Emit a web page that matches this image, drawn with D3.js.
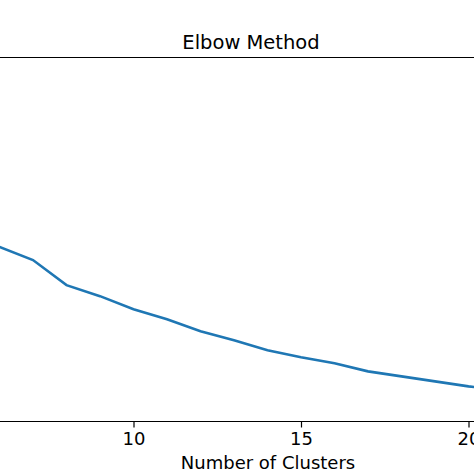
<!DOCTYPE html>
<html><head><meta charset="utf-8">
<script src="https://cdn.jsdelivr.net/npm/d3@7"></script>
<style>body{margin:0;background:#fff}</style></head>
<body><svg id="c" width="474" height="474"></svg>
<script>
const clusters = [6,7,8,9,10,11,12,13,14,15,16,17,18,19,20,21];
const inertia = [174,161,136,125,112,102,90,81,71,64,58,50,45,40,35,31];
const xTicks = [10,15,20];
const title = "Elbow Method";
const xLabel = "Number of Clusters";

const svg = d3.select("#c");
const x = d3.scaleLinear().domain([10,20]).range([133.5,468.5]);
const y = d3.scaleLinear().domain([0,363]).range([421.5,57.5]);
const font = "DejaVu Sans, sans-serif";

svg.append("line").attr("x1",0).attr("x2",474).attr("y1",57.5).attr("y2",57.5).attr("stroke","#000").attr("stroke-width",1.2);
const ax = svg.append("g").attr("transform","translate(0,421.5)")
  .call(d3.axisBottom(x).tickValues(xTicks).tickSize(6).tickPadding(5).tickFormat(d3.format("d")));
ax.select(".domain").attr("d","M0,0H474").attr("stroke","#000").attr("stroke-width",1.2);
ax.selectAll("line").attr("stroke-width",1.2);
ax.selectAll("text").attr("font-family",font).attr("font-size",18).attr("fill","#000");
svg.append("path").datum(clusters.map((c,i)=>[c,inertia[i]]))
  .attr("fill","none").attr("stroke","#1f77b4").attr("stroke-width",2.6)
  .attr("d",d3.line().x(d=>x(d[0])).y(d=>y(d[1])));
svg.append("text").attr("x",251).attr("y",49).attr("text-anchor","middle").attr("font-family",font).attr("font-size",19.5).text(title);
svg.append("text").attr("x",268).attr("y",469).attr("text-anchor","middle").attr("font-family",font).attr("font-size",18).text(xLabel);
</script></body></html>
